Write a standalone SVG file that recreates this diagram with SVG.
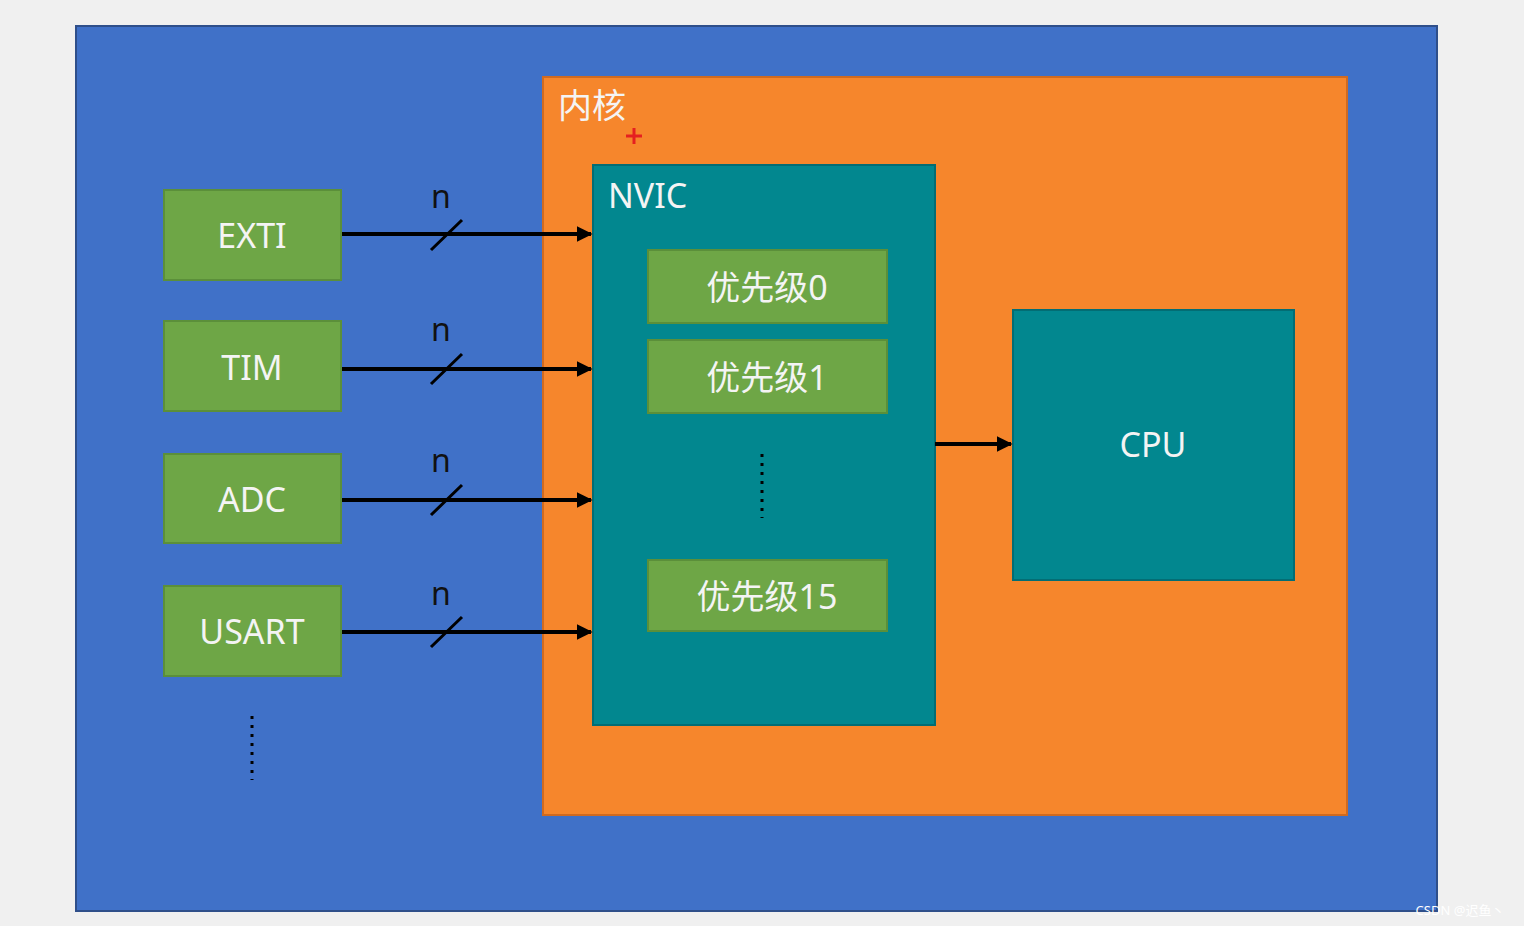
<svg xmlns="http://www.w3.org/2000/svg" width="1524" height="926" viewBox="0 0 1524 926">
<defs>
<style>
.t{font-family:"Noto Sans","Noto Sans CJK SC",sans-serif;fill:#f4f4f4}
.g{fill:#6ea646;stroke:#5b8f3a;stroke-width:2}
.c{stroke:#000;stroke-width:4;fill:none}
.d{stroke:#000;stroke-width:3;stroke-dasharray:3 6;fill:none}
</style>
<marker id="a" viewBox="0 0 10 10" refX="9" refY="5" markerWidth="4" markerHeight="4" orient="auto"><path d="M0,0L10,5L0,10z" fill="#000"/></marker>
</defs>
<rect width="1524" height="926" fill="#f0f0f0"/>
<rect x="76" y="26" width="1361" height="885" fill="#4071c8" stroke="#2f4f8a" stroke-width="2"/>
<g id="core"><rect x="543" y="77" width="804" height="738" fill="#f6862c" stroke="#d06a20" stroke-width="2"/>
<text class="t" x="558" y="118" font-size="34">内核</text></g>
<path d="M626,136h16M634,128v16" stroke="#e52020" stroke-width="3"/>
<g id="nvic"><rect x="593" y="165" width="342" height="560" fill="#02878f" stroke="#036d74" stroke-width="2"/>
<text class="t" x="608" y="208" font-size="34">NVIC</text></g>
<g id="p0"><rect class="g" x="648" y="250" width="239" height="73"/><text class="t" x="767" y="300" font-size="34" text-anchor="middle">优先级0</text></g>
<g id="p1"><rect class="g" x="648" y="340" width="239" height="73"/><text class="t" x="767" y="390" font-size="34" text-anchor="middle">优先级1</text></g>
<g id="p15"><rect class="g" x="648" y="560" width="239" height="71"/><text class="t" x="767" y="609" font-size="34" text-anchor="middle">优先级15</text></g>
<g id="cpu"><rect x="1013" y="310" width="281" height="270" fill="#02878f" stroke="#036d74" stroke-width="2"/><text class="t" x="1153" y="457" font-size="34" text-anchor="middle">CPU</text></g>
<g id="exti"><rect class="g" x="164" y="190" width="177" height="90"/><text class="t" x="252" y="248" font-size="34" text-anchor="middle">EXTI</text></g>
<g id="tim"><rect class="g" x="164" y="321" width="177" height="90"/><text class="t" x="252" y="380" font-size="34" text-anchor="middle">TIM</text></g>
<g id="adc"><rect class="g" x="164" y="454" width="177" height="89"/><text class="t" x="252" y="512" font-size="34" text-anchor="middle">ADC</text></g>
<g id="usart"><rect class="g" x="164" y="586" width="177" height="90"/><text class="t" x="252" y="644" font-size="34" text-anchor="middle">USART</text></g>
<g id="connectors">
<path class="c" d="M342,234H591" marker-end="url(#a)"/>
<path class="c" d="M342,369H591" marker-end="url(#a)"/>
<path class="c" d="M342,500H591" marker-end="url(#a)"/>
<path class="c" d="M342,632H591" marker-end="url(#a)"/>
<path class="c" d="M935,444H1011" marker-end="url(#a)"/>
<path d="M431,250l31,-30M431,384l31,-30M431,515l31,-30M431,647l31,-30" stroke="#000" stroke-width="3"/>
</g>
<g font-family="Noto Sans,sans-serif" font-size="32" fill="#111" text-anchor="middle">
<text x="441" y="208">n</text><text x="441" y="341">n</text><text x="441" y="472">n</text><text x="441" y="605">n</text></g>
<path class="d" d="M762,454V518M252,716V780"/>
<text x="1460" y="915" font-family="Noto Sans,Noto Sans CJK SC,sans-serif" font-size="13" fill="#fff" text-anchor="middle">CSDN @迟鱼丶</text>
</svg>
